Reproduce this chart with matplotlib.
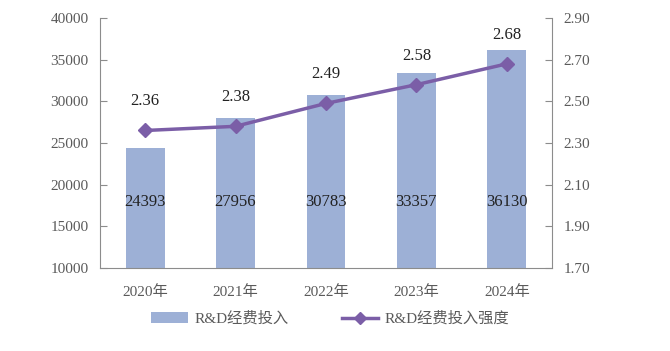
import numpy as np
import matplotlib.pyplot as plt
from matplotlib.lines import Line2D
from matplotlib.patches import Patch

plt.rcParams['font.family'] = ['Liberation Serif', 'Noto Sans CJK SC', 'DejaVu Sans']

years = ['2020年', '2021年', '2022年', '2023年', '2024年']
rd_spend = [24393, 27956, 30783, 33357, 36130]
rd_intensity = [2.36, 2.38, 2.49, 2.58, 2.68]

bar_color = '#9db0d6'
line_color = '#7b5ea7'
axis_color = '#8c8c8c'
tick_color = '#5a5a5a'

fig = plt.figure(figsize=(6.7, 3.51), dpi=100)
ax = fig.add_axes([0.149, 0.2365, 0.675, 0.7122])
ax2 = ax.twinx()

x = np.arange(len(years))
ax.bar(x, rd_spend, width=0.43, color=bar_color, zorder=1)
ax.set_ylim(10000, 40000)
ax.set_yticks(np.arange(10000, 40001, 5000))
ax.set_xlim(-0.5, len(years) - 0.5)
ax.set_xticks(x)
ax.set_xticklabels(years)

# value labels inside the bars
for xi, v in zip(x, rd_spend):
    ax.text(xi, 17900, str(v), ha='center', va='center', fontsize=12, color='#222222')

ax2.plot(x, rd_intensity, color=line_color, lw=2.5, marker='D', ms=7, zorder=3)
ax2.set_ylim(1.70, 2.90)
ax2.set_yticks(np.arange(1.70, 2.91, 0.20))
ax2.set_yticklabels(['%.2f' % t for t in np.arange(1.70, 2.91, 0.20)])
for xi, v in zip(x, rd_intensity):
    ax2.annotate('%.2f' % v, (xi, v), xytext=(0, 21), textcoords='offset points',
                 ha='center', va='center', fontsize=12, color='#222222')

for a in (ax, ax2):
    for s in a.spines.values():
        s.set_color(axis_color)
    a.spines['top'].set_visible(False)
ax.spines['right'].set_visible(False)
ax2.spines['left'].set_visible(False)
ax2.spines['bottom'].set_visible(False)

ax.tick_params(axis='y', direction='in', length=5, color=axis_color, labelsize=11,
               labelcolor=tick_color, pad=8)
ax2.tick_params(axis='y', direction='in', length=5, color=axis_color, labelsize=11,
                labelcolor=tick_color, pad=8)
ax.tick_params(axis='x', length=0, labelsize=11, labelcolor=tick_color, pad=12)

handles = [Patch(facecolor=bar_color, edgecolor='none'),
           Line2D([0], [0], color=line_color, lw=2.5, marker='D', ms=6)]
fig.legend(handles, ['R&D经费投入', 'R&D经费投入强度'], loc='center',
           bbox_to_anchor=(0.493, 0.092), ncol=2, frameon=False, fontsize=11,
           columnspacing=3.5, handlelength=2.4, handletextpad=0.4,
           labelcolor=tick_color)

fig.savefig('out.png', dpi=100)
